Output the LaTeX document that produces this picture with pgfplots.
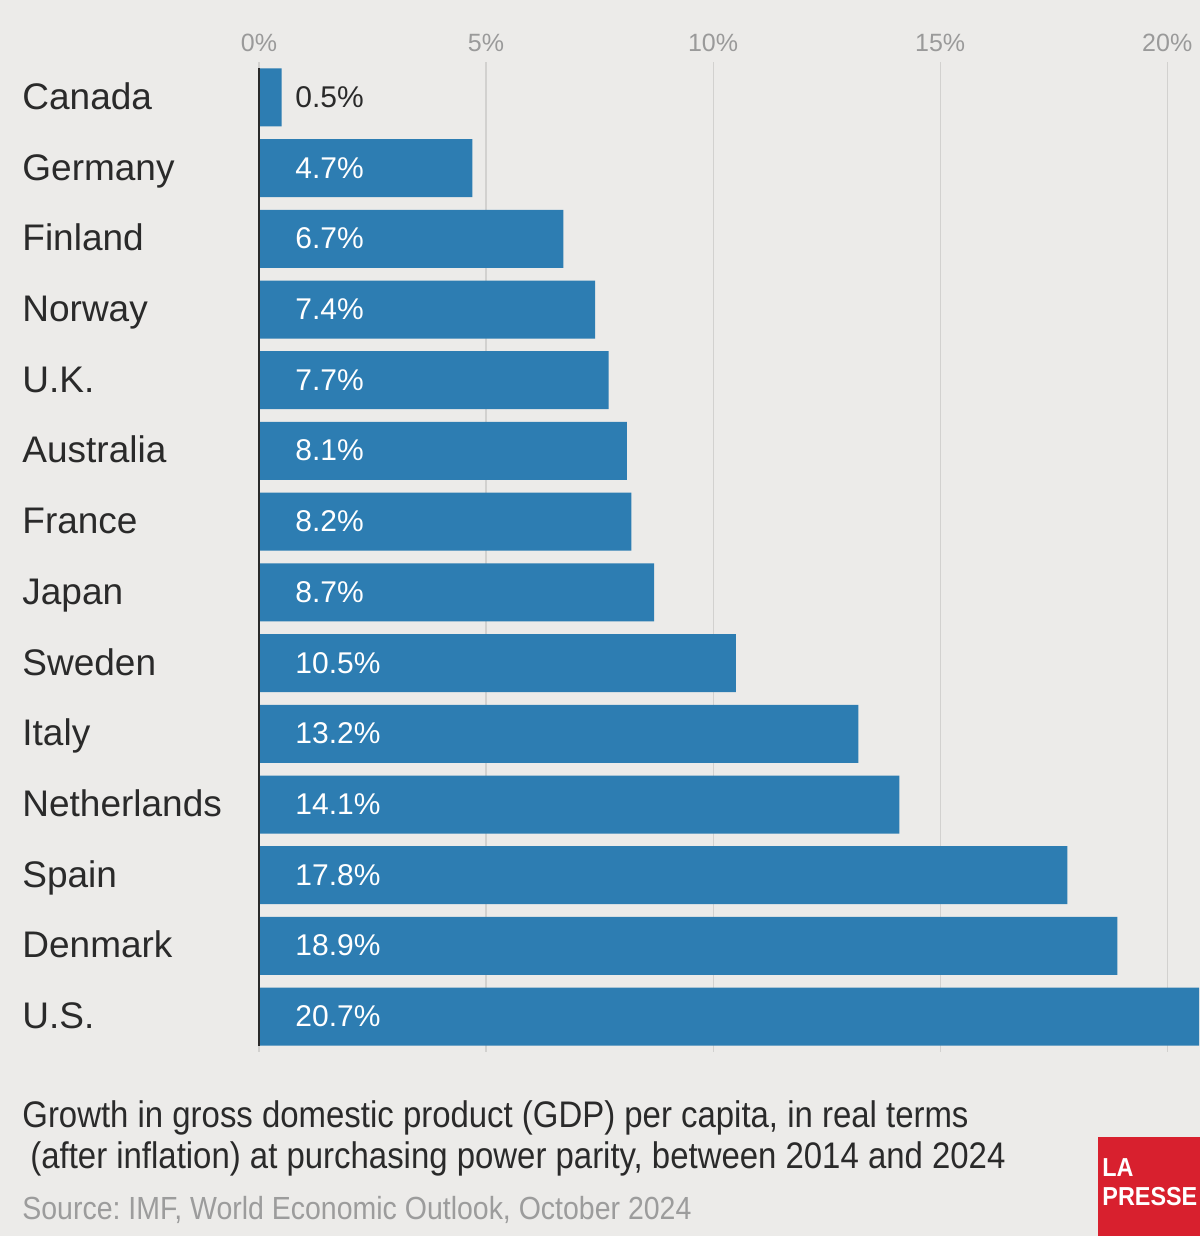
\documentclass[border=0pt]{standalone}
\usepackage{pgfplots}
\pgfplotsset{compat=1.18}
\usepackage{pgfplotstable}
\usepackage{fontspec}
\setmainfont{Liberation Sans}
\newfontfamily\capfont[FakeStretch=0.89]{Liberation Sans}
\newfontfamily\logofont[FakeStretch=0.9]{Liberation Sans}
\frenchspacing

\definecolor{bgcol}{HTML}{ECEBE9}
\definecolor{barblue}{HTML}{2D7DB2}
\definecolor{gridgray}{HTML}{D2D1CF}
\definecolor{tickgray}{HTML}{9A9A9A}
\definecolor{srcgray}{HTML}{9C9C9C}
\definecolor{textdark}{HTML}{2A2A2A}
\definecolor{logored}{HTML}{D8202E}

% Real GDP per capita growth (PPP), 2014-2024, in percent
\pgfplotstableread{
idx country val
0 Canada 0.5
1 Germany 4.7
2 Finland 6.7
3 Norway 7.4
4 U.K. 7.7
5 Australia 8.1
6 France 8.2
7 Japan 8.7
8 Sweden 10.5
9 Italy 13.2
10 Netherlands 14.1
11 Spain 17.8
12 Denmark 18.9
13 U.S. 20.7
}\gdpdata

\begin{document}
\begin{tikzpicture}
% canvas in pixel-like units
\begin{scope}[x=0.5pt,y=-0.5pt]
  \fill[bgcol] (0,0) rectangle (1200,1236);
  \useasboundingbox (0,0) rectangle (1200,1236);
\end{scope}

\begin{axis}[
  at={(129.5pt,-31pt)}, anchor=north west,
  scale only axis, width=470pt, height=495pt,
  xmin=0, xmax=20.7, ymin=-0.5, ymax=13.5,
  y dir=reverse,
  axis line style={draw=none},
  major tick length=0pt,
  xtick={0,5,10,15,20},
  xticklabel pos=upper,
  xticklabel={\pgfmathprintnumber[assume math mode=true]{\tick}\%},
  xticklabel style={font=\fontsize{12.5}{14}\selectfont, text=tickgray, inner sep=0pt, anchor=south, yshift=5pt},
  xmajorgrids,
  grid style={gridgray, line width=0.6pt},
  ytick={0,...,13},
  yticklabels from table={\gdpdata}{country},
  yticklabel style={font=\fontsize{18.5}{22}\selectfont, text=textdark, inner sep=0pt, anchor=base west, xshift=-118.5pt, yshift=-6pt},
  clip=false,
]
\addplot[xbar, bar width=0.82, fill=barblue, draw=none]
  table[x=val, y=idx] {\gdpdata};

% value labels: first one sits beside its short bar, the rest inside the bars
\addplot[draw=none, mark=none, skip coords between index={1}{14},
  point meta=explicit,
  nodes near coords={\pgfmathprintnumber[fixed,fixed zerofill,precision=1,assume math mode=true]{\pgfplotspointmeta}\%},
  every node near coord/.append style={font=\fontsize{15}{18}\selectfont, text=textdark, inner sep=0pt, anchor=base west, xshift=18pt, yshift=-5pt}]
  table[x expr=0, y=idx, meta=val] {\gdpdata};
\addplot[draw=none, mark=none, skip coords between index={0}{1},
  point meta=explicit,
  nodes near coords={\pgfmathprintnumber[fixed,fixed zerofill,precision=1,assume math mode=true]{\pgfplotspointmeta}\%},
  every node near coord/.append style={font=\fontsize{15}{18}\selectfont, text=white, inner sep=0pt, anchor=base west, xshift=18pt, yshift=-5pt}]
  table[x expr=0, y=idx, meta=val] {\gdpdata};

\draw[textdark, line width=1pt] (axis cs:0,-0.41) -- (axis cs:0,13.41);
\end{axis}

\begin{scope}[x=0.5pt,y=-0.5pt]
  \node[anchor=base west, inner sep=0pt, text=textdark, font=\capfont\fontsize{18.5}{22}\selectfont] at (22,1127) {Growth in gross domestic product (GDP) per capita, in real terms};
  \node[anchor=base west, inner sep=0pt, text=textdark, font=\capfont\fontsize{18.5}{22}\selectfont] at (30,1168) {(after inflation) at purchasing power parity, between 2014 and 2024};
  \node[anchor=base west, inner sep=0pt, text=srcgray, font=\capfont\fontsize{16}{19}\selectfont] at (22,1219) {Source: IMF, World Economic Outlook, October 2024};
  \fill[logored] (1098,1137) rectangle (1200,1236);
  \node[anchor=north west, inner sep=0pt, align=left, text=white, font=\logofont\bfseries\fontsize{13}{14.5}\selectfont] at (1102,1158) {LA\\PRESSE};
\end{scope}
\end{tikzpicture}
\end{document}
